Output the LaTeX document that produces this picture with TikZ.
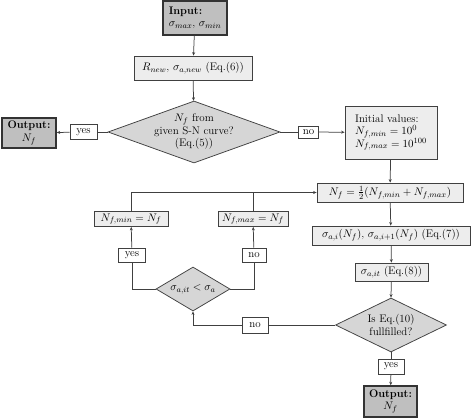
\documentclass[tikz,border=0pt]{standalone}
\usetikzlibrary{shapes.geometric,arrows.meta}
\begin{document}
\begin{tikzpicture}[x=1pt,y=-1pt,
  every node/.style={font=\fontsize{11}{12.5}\selectfont},
  line/.style={draw=black!75,line width=0.75pt},
  arr/.style={line,-{Stealth[length=3.5pt,width=3pt]}},
  box/.style={draw=black!75,line width=0.75pt,fill=black!7,inner sep=1pt,minimum width=#1},
  iobox/.style={draw=black!80,line width=1.4pt,fill=black!25,inner sep=1pt,minimum width=#1},
  lbl/.style={draw=black!75,line width=0.6pt,fill=white,inner sep=1pt},
  dia/.style={diamond,draw=black!75,line width=0.75pt,fill=black!16,inner sep=0pt},
  txt/.style={align=center,inner sep=0pt}]
\useasboundingbox (0,0) rectangle (474,418);
% main column
\node[iobox=64pt,minimum height=34pt,align=left] (in) at (195,18) {\textbf{Input:}\\ $\sigma_{max}$, $\sigma_{min}$};
\node[box=118pt,minimum height=24pt] (r) at (193,68) {$R_{new}$, $\sigma_{a,new}$ (Eq.(6))};
\node[dia,minimum width=172pt,minimum height=62pt] (d1) at (194,132) {};
\node[txt] at (d1) {$N_f$ from\\ given S-N curve?\\ (Eq.(5))};
\node[iobox=54pt,minimum height=30pt,align=center] (o1) at (29,133) {\textbf{Output:}\\ $N_f$};
\node[lbl,minimum width=27pt,minimum height=15pt] (y1) at (83.5,132) {yes};
\node[lbl,minimum width=20pt,minimum height=12pt] (n1) at (308.5,132) {no};
\node[box=92pt,minimum height=53pt,align=left] (init) at (391,132.5) {Initial values:\\ $N_{f,min}=10^0$\\ $N_{f,max}=10^{100}$};
\node[box=146pt,minimum height=19pt] (nf) at (390,192.5) {$N_f=\frac{1}{2}(N_{f,min}+N_{f,max})$};
\node[box=158pt,minimum height=19pt] (sg) at (391,235.5) {$\sigma_{a,i}(N_f)$, $\sigma_{a,i+1}(N_f)$ (Eq.(7))};
\node[box=73pt,minimum height=18pt] (st) at (391.5,272) {$\sigma_{a,it}$ (Eq.(8))};
\node[dia,minimum width=111pt,minimum height=54pt] (d2) at (391,325) {};
\node[txt] at (d2) {Is Eq.(10)\\ fullfilled?};
\node[lbl,minimum width=26pt,minimum height=15pt] (y2) at (391,366.5) {yes};
\node[iobox=53pt,minimum height=31pt,align=center] (o2) at (390.5,401.5) {\textbf{Output:}\\ $N_f$};
\node[lbl,minimum width=26pt,minimum height=16pt] (n2) at (255,325) {no};
\node[dia,minimum width=74pt,minimum height=44pt] (d3) at (193,289) {};
\node[txt] at (d3) {$\sigma_{a,it}<\sigma_a$};
\node[lbl,minimum width=27pt,minimum height=14pt] (y3) at (132,255) {yes};
\node[lbl,minimum width=24pt,minimum height=14pt] (n3) at (254,255) {no};
\node[box=74pt,minimum height=15pt] (nmin) at (131,219) {$N_{f,min}=N_f$};
\node[box=70pt,minimum height=15pt] (nmax) at (253,219) {$N_{f,max}=N_f$};
\coordinate (j) at (nmax.north |- nf.west);
% connectors
\draw[arr] (in) -- (r);
\draw[arr] (r) -- (d1);
\draw[line] (d1.west) -- (y1);
\draw[arr] (y1) -- (o1);
\draw[line] (d1.east) -- (n1);
\draw[arr] (n1) -- (init);
\draw[arr] (init) -- (nf);
\draw[arr] (nf) -- (sg);
\draw[arr] (sg) -- (st);
\draw[arr] (st) -- (d2.north);
\draw[line] (d2.south) -- (y2);
\draw[arr] (y2) -- (o2);
\draw[line] (d2.west) -- (n2);
\draw[arr] (n2) -| (d3.south);
\draw[line] (d3.west) -| (y3.south);
\draw[arr] (y3) -- (nmin);
\draw[line] (d3.east) -| (n3.south);
\draw[arr] (n3) -- (nmax);
\draw[arr] (nmin.north) |- (nf.west);
\draw[line] (nmax.north) -- (j);
\end{tikzpicture}
\end{document}
